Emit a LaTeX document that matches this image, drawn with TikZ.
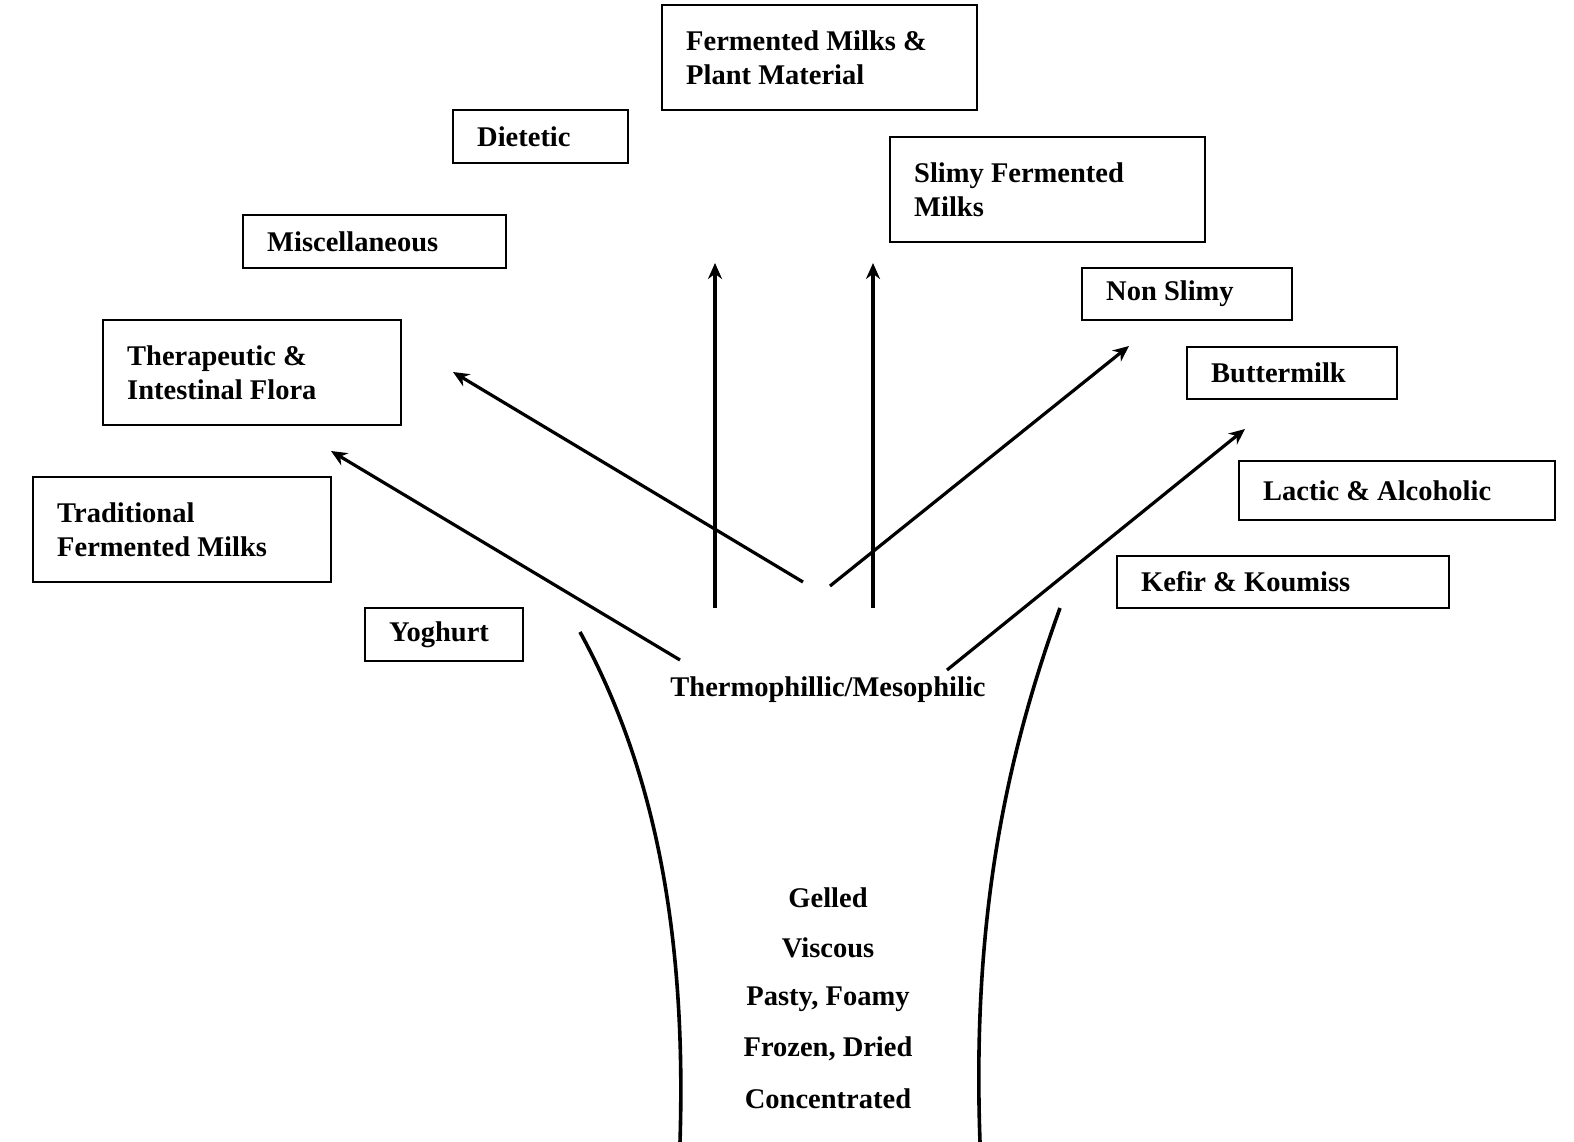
\documentclass[tikz,border=0pt]{standalone}
\usepackage{fontspec}
\setmainfont{Liberation Serif}
\usetikzlibrary{arrows.meta}
\begin{document}
\begin{tikzpicture}[x=1pt,y=-1pt,
  lab/.style={font=\fontsize{28.5}{34}\selectfont\bfseries,align=left,anchor=west,inner sep=0pt},
  ctr/.style={font=\fontsize{28.5}{34}\selectfont\bfseries},
  arr/.style={line width=3.2pt,-{Stealth[length=16pt,width=14pt]}},
  trunk/.style={line width=3.6pt}]
\useasboundingbox (0,0) rectangle (1574,1142);
\fill[white] (0,0) rectangle (1574,1142);
\newcommand{\bx}[6]{\draw[line width=2.2pt] (#2,#3) rectangle (#4,#5);
  \node[lab] (#1) at (#2+24,{(#3+#5)/2}) {#6};}
\bx{fm}{662}{5}{977}{110}{Fermented Milks \&\\Plant Material}
\bx{di}{453}{110}{628}{163}{Dietetic}
\bx{sl}{890}{137}{1205}{242}{Slimy Fermented\\Milks}
\bx{mi}{243}{215}{506}{268}{Miscellaneous}
\bx{ns}{1082}{268}{1292}{320}{Non Slimy}
\bx{th}{103}{320}{401}{425}{Therapeutic \&\\Intestinal Flora}
\bx{bu}{1187}{347}{1397}{399}{Buttermilk}
\bx{tr}{33}{477}{331}{582}{Traditional\\Fermented Milks}
\bx{la}{1239}{461}{1555}{520}{Lactic \& Alcoholic}
\bx{ke}{1117}{556}{1449}{608}{Kefir \& Koumiss}
\bx{yo}{365}{608}{523}{661}{Yoghurt}
\node[ctr] (tm) at (828,690) {Thermophillic/Mesophilic};
\foreach \n/\t/\y in {g/Gelled/898,v/Viscous/948,p/{Pasty, Foamy}/999,f/{Frozen, Dried}/1049,c/Concentrated/1099}
  \node[ctr] (\n) at (828,\y) {\t};
\coordinate (a1s) at (715,608); \coordinate (a1e) at (715,263);
\coordinate (a2s) at (873,608); \coordinate (a2e) at (873,263);
\coordinate (a3s) at (803,582); \coordinate (a3e) at (453,372);
\coordinate (a4s) at (680,660); \coordinate (a4e) at (331,451);
\coordinate (a5s) at (830,586); \coordinate (a5e) at (1129,346);
\coordinate (a6s) at (947,670); \coordinate (a6e) at (1245,429);
\foreach \i in {1,...,6} \draw[arr] (a\i s) -- (a\i e);
\coordinate (l0) at (580,632); \coordinate (l1) at (680,1142);
\coordinate (r0) at (1060,608); \coordinate (r1) at (980,1142);
\draw[trunk] (l0) .. controls (650,760) and (687,920) .. (l1);
\draw[trunk] (r0) .. controls (1005,760) and (972,920) .. (r1);
\end{tikzpicture}
\end{document}
